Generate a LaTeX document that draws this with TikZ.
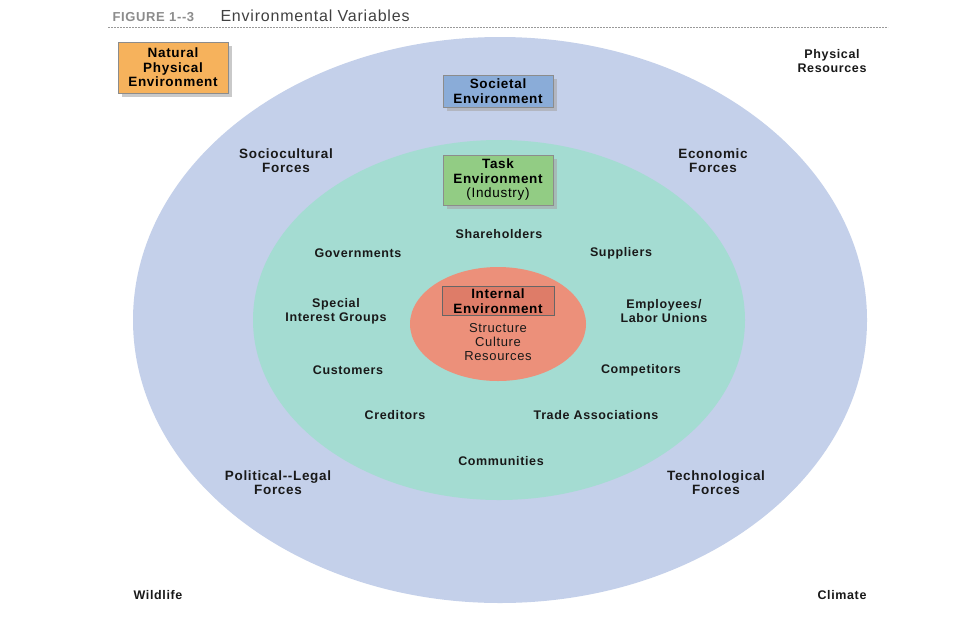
\documentclass[tikz,border=0pt]{standalone}
\usepackage{fontspec}
\setmainfont{Liberation Sans}
\newfontfamily\widefam{Liberation Sans}[LetterSpace=5]
\begin{document}
\begin{tikzpicture}[x=1pt,y=-1pt,
 lbl/.style={font=\widefam\fontsize{12.5}{14}\selectfont\bfseries,align=center,text=black!90,inner sep=0pt},
 big/.style={font=\widefam\fontsize{13.5}{14}\selectfont\bfseries},
 box/.style={draw=black!45,line width=0.8pt,align=center,font=\widefam\fontsize{13.5}{14.5}\selectfont\bfseries,inner sep=2pt,minimum height=32pt},
 shad/.style={fill=black!35,opacity=0.6}]
\definecolor{outerc}{RGB}{196,208,234}
\definecolor{midc}{RGB}{164,220,210}
\definecolor{innc}{RGB}{236,144,122}
\definecolor{orng}{RGB}{246,178,92}
\definecolor{bluec}{RGB}{138,172,216}
\definecolor{grnc}{RGB}{146,204,132}
\definecolor{redc}{RGB}{222,124,104}
\useasboundingbox (0,0) rectangle (957,627);
\fill[white] (0,0) rectangle (957,627);
\node[anchor=base west,text=black!45,font=\widefam\fontsize{13}{14}\selectfont\bfseries] (fig) at (109,21) {FIGURE 1--3};
\node[anchor=base west,text=black!75,font=\widefam\fontsize{16}{17}\selectfont] (title) at (217,21) {Environmental Variables};
\coordinate (l1) at (108,27); \coordinate (l2) at (888,27);
\draw[black!40,dash pattern=on 2pt off 1pt,line width=0.8pt] (l1) -- (l2);
\fill[outerc] (500,320) ellipse [x radius=367,y radius=283];
\fill[midc] (499,320) ellipse [x radius=246,y radius=180];
\fill[innc] (498,324) ellipse [x radius=88,y radius=57];
% boxes
\fill[shad] (122,46) rectangle (232,97);
\node[box,fill=orng,minimum width=110pt,minimum height=51pt] (nat) at (173,67.5) {Natural\\Physical\\Environment};
\fill[shad] (447,79) rectangle (557,111);
\node[box,fill=bluec,minimum width=110pt] (soc) at (498,91) {Societal\\Environment};
\fill[shad] (447,159) rectangle (557,209);
\node[box,fill=grnc,minimum width=110pt,minimum height=50pt] (task) at (498,180) {Task\\Environment\\{\mdseries(Industry)}};
\node[box,fill=redc,draw=black!60,minimum width=112pt,minimum height=28pt] (int) at (498,301) {Internal\\Environment};
\node[lbl,font=\widefam\fontsize{13}{14}\selectfont] (scr) at (498,342) {Structure\\Culture\\Resources};
% labels
\node[lbl] (pr) at (832,61) {Physical\\Resources};
\node[lbl,big] (sc) at (286,161) {Sociocultural\\Forces};
\node[lbl,big] (ec) at (713,161) {Economic\\Forces};
\node[lbl,big] (pl) at (278,483) {Political--Legal\\Forces};
\node[lbl,big] (tf) at (716,483) {Technological\\Forces};
\node[lbl] (wl) at (158,595) {Wildlife};
\node[lbl] (cl) at (842,595) {Climate};
\node[lbl] (sh) at (499,234) {Shareholders};
\node[lbl] (gv) at (358,253) {Governments};
\node[lbl] (sp) at (621,253) {Suppliers};
\node[lbl] (sig) at (336,311) {Special\\Interest Groups};
\node[lbl] (el) at (664,311) {Employees/\\Labor Unions};
\node[lbl] (cu) at (348,370) {Customers};
\node[lbl] (co) at (641,370) {Competitors};
\node[lbl] (cr) at (395,415) {Creditors};
\node[lbl] (ta) at (596,415) {Trade Associations};
\node[lbl] (cm) at (501,461) {Communities};
\end{tikzpicture}
\end{document}
